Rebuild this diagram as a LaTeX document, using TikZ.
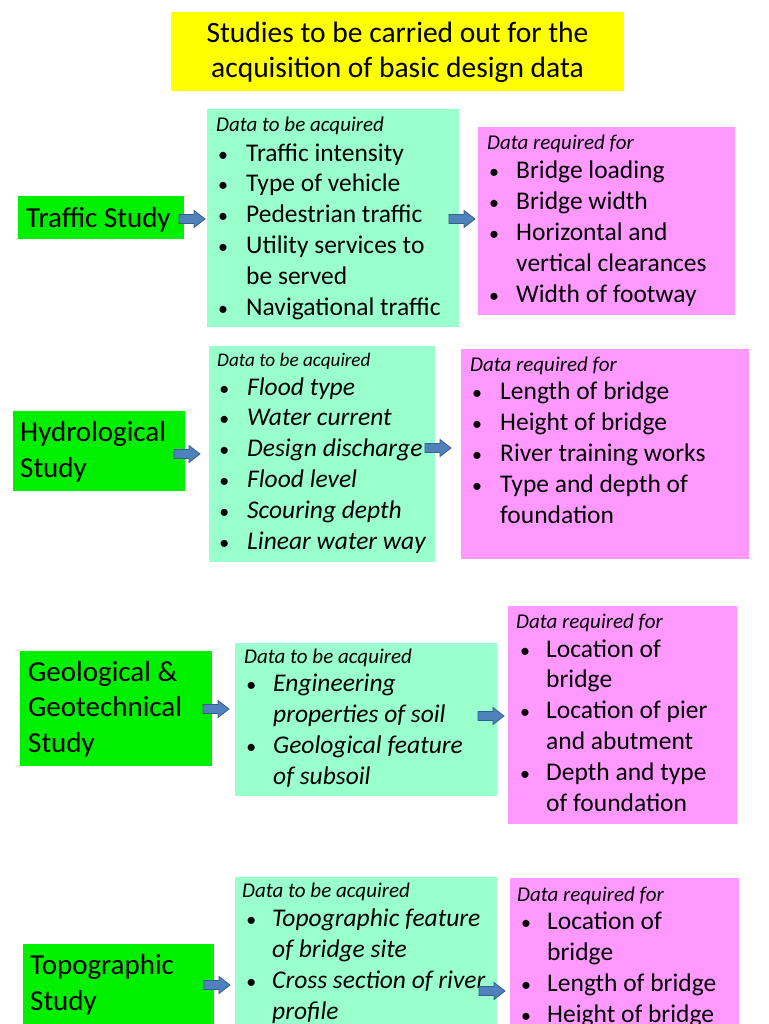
\documentclass[tikz,border=0pt]{standalone}
\usepackage{fontspec}
\setmainfont{Carlito}
\definecolor{gr}{RGB}{0,240,0}
\definecolor{cy}{RGB}{153,255,204}
\definecolor{pk}{RGB}{255,153,255}
\definecolor{ye}{RGB}{255,255,0}
\definecolor{af}{RGB}{79,129,189}
\definecolor{ad}{RGB}{56,93,138}
\newcommand\lb[1]{\makebox[#1pt][l]{\fontsize{20}{20}\selectfont•}}
\newcommand\ind[1]{\hspace*{#1pt}}
\newcommand\arw[2]{\draw[arr,shift={(#1,#2)}] (-13,-4.5) -- (2,-4.5) -- (2,-8.5) -- (13,0) -- (2,8.5) -- (2,4.5) -- (-13,4.5) -- cycle;}
\tikzset{
 box/.style={anchor=north west,inner sep=0pt,outer sep=0pt},
 lst/.style={anchor=base west,align=left,inner sep=0pt,font=\fontsize{25.5}{30.8}\selectfont},
 hdr/.style={anchor=base west,inner sep=0pt,font=\fontsize{21}{22}\selectfont\itshape},
 lbl/.style={anchor=base west,align=left,inner sep=0pt,font=\fontsize{29}{35.5}\selectfont},
 arr/.style={fill=af,draw=ad,line width=0.8pt,line join=miter}
}
\begin{document}
\begin{tikzpicture}[x=1pt,y=-1pt]
\useasboundingbox (0,0) rectangle (768,1024);
\clip (0,0) rectangle (768,1024);
% title
\node[box,fill=ye,minimum width=453pt,minimum height=79pt] (title) at (171,12) {};
\node[align=center,font=\fontsize{29.5}{35.5}\selectfont,inner sep=0pt] at ([yshift=-1pt]title.center) {Studies to be carried out for the\\acquisition of basic design data};
% Traffic
\node[box,fill=gr,minimum width=166pt,minimum height=43pt] (g1) at (18,196) {};
\node[lbl] at (26,227) {Traffic Study};
\node[box,fill=cy,minimum width=252pt,minimum height=218pt] (d1) at (207,109) {};
\node[hdr] at (216,132) {Data to be acquired};
\node[lst] at (218,315) {\lb{28}Traffic intensity\\\lb{28}Type of vehicle\\\lb{28}Pedestrian traffic\\\lb{28}Utility services to\\\ind{28}be served\\\lb{28}Navigational traffic};
\node[box,fill=pk,minimum width=257pt,minimum height=188pt] (p1) at (478,127) {};
\node[hdr] at (487,150) {Data required for};
\node[lst] at (489,302) {\lb{27}Bridge loading\\\lb{27}Bridge width\\\lb{27}Horizontal and\\\ind{27}vertical clearances\\\lb{27}Width of footway};
\arw{192}{219}
\arw{462}{219}
% Hydro
\node[box,fill=gr,minimum width=172pt,minimum height=80pt] (g2) at (13,411) {};
\node[lbl] at (20,477) {Hydrological\\Study};
\node[box,fill=cy,minimum width=226pt,minimum height=216pt] (d2) at (209,346) {};
\node[hdr,font=\fontsize{19.2}{20}\selectfont\itshape] at (217,366) {Data to be acquired};
\node[lst,font=\fontsize{25.5}{30.8}\selectfont\itshape] at (219,549) {\lb{28}Flood type\\\lb{28}Water current\\\lb{28}Design discharge\\\lb{28}Flood level\\\lb{28}Scouring depth\\\lb{28}Linear water way};
\node[box,fill=pk,minimum width=288pt,minimum height=210pt] (p2) at (461,349) {};
\node[hdr] at (470,371) {Data required for};
\node[lst] at (472,523) {\lb{28}Length of bridge\\\lb{28}Height of bridge\\\lb{28}River training works\\\lb{28}Type and depth of\\\ind{28}foundation};
\arw{187}{454}
\arw{438}{448}
% Geo
\node[box,fill=gr,minimum width=192pt,minimum height=115pt] (g3) at (20,651) {};
\node[lbl] at (28,752) {Geological \&\\Geotechnical\\Study};
\node[box,fill=cy,minimum width=262pt,minimum height=153pt] (d3) at (235,643) {};
\node[hdr] at (244,663) {Data to be acquired};
\node[lst,font=\fontsize{25.5}{30.8}\selectfont\itshape] at (246,784) {\lb{27}Engineering\\\ind{27}properties of soil\\\lb{27}Geological feature\\\ind{27}of subsoil};
\node[box,fill=pk,minimum width=229pt,minimum height=218pt] (p3) at (508,606) {};
\node[hdr] at (516,628) {Data required for};
\node[lst] at (520,811) {\lb{26}Location of\\\ind{26}bridge\\\lb{26}Location of pier\\\ind{26}and abutment\\\lb{26}Depth and type\\\ind{26}of foundation};
\arw{216}{709}
\arw{491}{716}
% Topo
\node[box,fill=gr,minimum width=191pt,minimum height=90pt] (g4) at (23,944) {};
\node[lbl] at (30,1010) {Topographic\\Study};
\node[box,fill=cy,minimum width=262pt,minimum height=160pt] (d4) at (235,877) {};
\node[hdr] at (242,897) {Data to be acquired};
\node[lst,font=\fontsize{25.5}{30.8}\selectfont\itshape] at (246,1019) {\lb{26}Topographic feature\\\ind{26}of bridge site\\\lb{26}Cross section of river\\\ind{26}profile};
\node[box,fill=pk,minimum width=229pt,minimum height=160pt] (p4) at (510,878) {};
\node[hdr] at (517,901) {Data required for};
\node[lst] at (521,1022) {\lb{26}Location of\\\ind{26}bridge\\\lb{26}Length of bridge\\\lb{26}Height of bridge};
\arw{217}{985}
\arw{492}{991}
\end{tikzpicture}
\end{document}
